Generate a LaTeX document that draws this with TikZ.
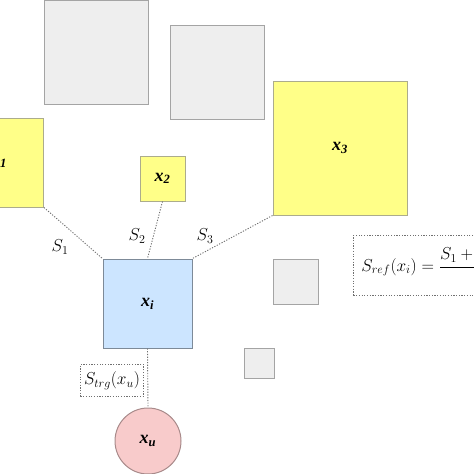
\documentclass[tikz,border=0pt]{standalone}
\usepackage{amsmath}
\usepackage{fontspec}
\newfontfamily\tnr{Liberation Serif}
\definecolor{grayfill}{HTML}{EEEEEE}
\definecolor{grayedge}{HTML}{A4A4A4}
\definecolor{yelfill}{HTML}{FFFF88}
\definecolor{yeledge}{HTML}{ACAC8C}
\definecolor{bluefill}{HTML}{CCE5FF}
\definecolor{blueedge}{HTML}{7D8A98}
\definecolor{pinkfill}{HTML}{F8CBCB}
\definecolor{pinkedge}{HTML}{A88A8A}
\definecolor{dotcol}{HTML}{707070}
\tikzset{
  sq/.style={draw, line width=1pt, inner sep=0pt, minimum width=#1, minimum height=#1},
  graybox/.style={sq=#1, fill=grayfill, draw=grayedge},
  yelbox/.style={sq=#1, fill=yelfill, draw=yeledge},
  bluebox/.style={sq=#1, fill=bluefill, draw=blueedge},
  lbl/.style={font=\tnr\bfseries\itshape\fontsize{18}{20}\selectfont},
  conn/.style={draw=dotcol, line width=0.9pt, dash pattern=on 1.2pt off 1.5pt},
  mathlbl/.style={font=\fontsize{17}{20}\selectfont, inner sep=0pt},
  formbox/.style={draw=dotcol, line width=0.9pt, dash pattern=on 1.2pt off 1.5pt, inner sep=0pt, anchor=north west},
}
\begin{document}
\begin{tikzpicture}[x=1pt,y=-1pt]
\useasboundingbox (0,0) rectangle (474,474);
\begin{scope}
\clip (0,0) rectangle (474,474);
% gray boxes
\node[graybox=104pt] (g1) at (96,52) {};
\node[graybox=94pt] (g2) at (217,72) {};
\node[graybox=45pt] (g3) at (295.5,282) {};
\node[graybox=30pt] (g4) at (259,363) {};
% yellow boxes
\node[yelbox=89pt, lbl] (x1) at (-1,162.5) {x\textsubscript{1}};
\node[yelbox=45pt, lbl] (x2) at (162.5,178.5) {x\textsubscript{2}};
\node[yelbox=134pt, lbl] (x3) at (340,148) {x\textsubscript{3}};
% center box
\node[bluebox=89pt, lbl] (xi) at (147.5,303.5) {x\textsubscript{i}};
% target circle
\node[circle, draw=pinkedge, fill=pinkfill, line width=1pt, minimum size=66pt, inner sep=0pt, lbl] (xu) at (148,441) {x\textsubscript{u}};
% connectors
\draw[conn] (x1.south east) -- (xi.north west);
\draw[conn] (x2.south) -- (xi.north);
\draw[conn] (x3.south west) -- (xi.north east);
\draw[conn] (xi.south) -- (xu.north);
% labels
\node[mathlbl] (s1) at (60,247) {$S_1$};
\node[mathlbl] (s2) at (137,236) {$S_2$};
\node[mathlbl] (s3) at (205,236) {$S_3$};
% target similarity box
\node[formbox, minimum width=63pt, minimum height=32pt, font=\fontsize{17}{20}\selectfont] (strg) at (80,364) {$S_{trg}(x_u)$};
% reference similarity box
\node[formbox, minimum height=60pt, font=\fontsize{17}{20}\selectfont, inner xsep=8pt, align=left] (sref) at (353,235) {$S_{ref}(x_i) = \dfrac{S_1+S_2+S_3}{3}$};
\end{scope}
\end{tikzpicture}
\end{document}
